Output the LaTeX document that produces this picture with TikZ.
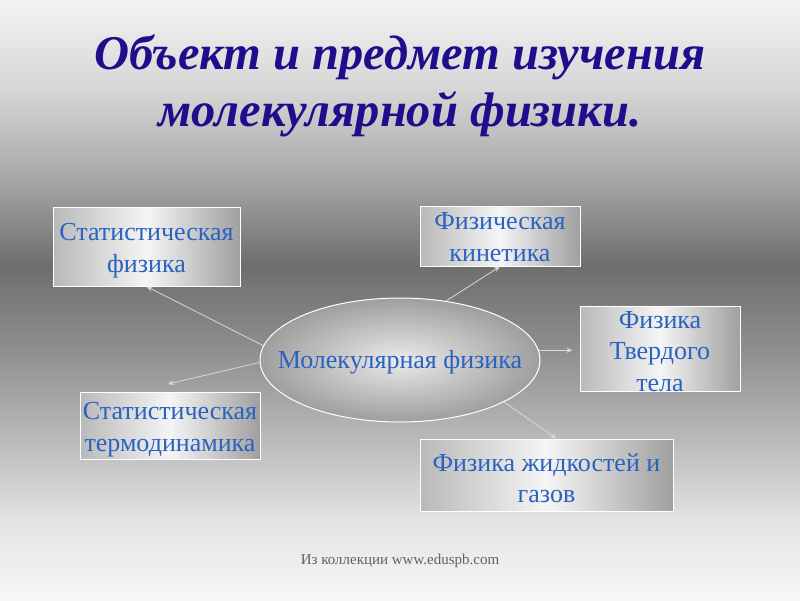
\documentclass[tikz,border=0pt]{standalone}
\usepackage{fontspec}
\setmainfont{Liberation Serif}
\usetikzlibrary{shapes.geometric,arrows.meta,calc}
\definecolor{titleblue}{HTML}{1E0E8C}
\definecolor{txtblue}{HTML}{2A62C0}
\definecolor{linegray}{HTML}{D8D8D8}
\begin{document}
\begin{tikzpicture}[x=1pt,y=-1pt,
  box/.style={draw=white, line width=1pt, left color=gray!55!white, right color=gray!75!white, middle color=gray!8!white, inner sep=0pt},
  txt/.style={text=txtblue, align=center, font=\fontsize{26}{31.5}\selectfont, inner sep=0pt},
  conn/.style={draw=linegray, line width=0.8pt, -{Stealth[length=6pt,width=5pt]}},
  ttl/.style={align=center, font=\fontsize{48.5}{57}\selectfont\bfseries\itshape, inner sep=0pt}]
\useasboundingbox (0,0) rectangle (800,600);
% background bands
\fill[top color=black!5, bottom color=black!16] (0,0) rectangle (800,90.5);
\fill[top color=black!16, bottom color=black!35] (0,90) rectangle (800,180.5);
\fill[top color=black!35, bottom color=black!57] (0,180) rectangle (800,265.5);
\fill[top color=black!57, bottom color=black!44] (0,265) rectangle (800,350.5);
\fill[top color=black!44, bottom color=black!27] (0,350) rectangle (800,440.5);
\fill[top color=black!27, bottom color=black!11] (0,440) rectangle (800,520.5);
\fill[top color=black!11, bottom color=black!3] (0,520) rectangle (800,600);
% title
\node[ttl, text=titleblue] (title) at (400,86) {Объект и предмет изучения\\молекулярной физики.};
% boxes
\node[box, minimum width=187pt, minimum height=79pt] (b1) at (146.5,246.5) {};
\node[txt] at ($(b1)+(0,4)$) {Статистическая\\физика};
\node[box, minimum width=160pt, minimum height=60pt] (b2) at (500,236) {};
\node[txt] at ($(b2)+(0,1)$) {Физическая\\кинетика};
\node[box, minimum width=160pt, minimum height=85pt] (b3) at (660,348.5) {};
\node[txt] at ($(b3)+(0,3)$) {Физика\\Твердого\\тела};
\node[box, minimum width=180pt, minimum height=67pt] (b4) at (170,425.5) {};
\node[txt] at ($(b4)+(0,4)$) {Статистическая\\термодинамика};
\node[box, minimum width=253pt, minimum height=72pt] (b5) at (546.5,475) {};
\node[txt] at ($(b5)+(0,3)$) {Физика жидкостей и\\газов};
% ellipse
\node[ellipse, draw=white, line width=1pt, inner color=black!8, outer color=black!38, minimum width=280pt, minimum height=124pt, inner sep=0pt] (m) at (400,360) {};
\node[txt] at ($(m)+(0,2)$) {Молекулярная физика};
% connectors
\coordinate (t4) at (168,384);
\coordinate (t5) at ($(b5.north)+(10,0)$);
\draw[conn] (m.174) -- (b1.south);
\draw[conn] (m.181) -- (t4);
\draw[conn] (m.52) -- (b2.south);
\draw[conn, shorten >=7pt] (m.4) -- (m.4 -| b3.west);
\draw[conn] (m.-22) -- (t5);
% footer
\node[text=black!62, font=\fontsize{15}{18}\selectfont] (foot) at (400,561) {Из коллекции www.eduspb.com};
\end{tikzpicture}
\end{document}
